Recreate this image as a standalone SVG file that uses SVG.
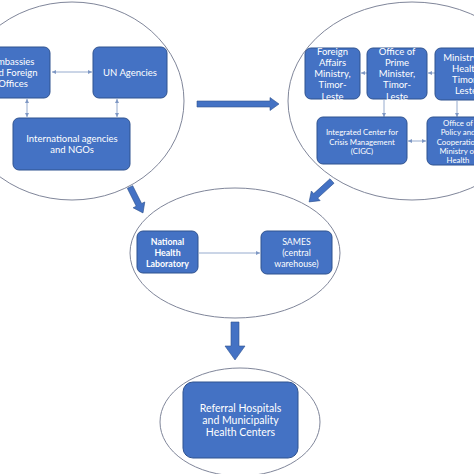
<svg xmlns="http://www.w3.org/2000/svg" width="474" height="474" viewBox="0 0 474 474">
<style>
.bg{fill:#ffffff}
.ell{fill:none;stroke:#80869a;stroke-width:1}
.box{fill:#4472c4;stroke:#2f528f;stroke-width:1}
.t{font-family:Lato,"Open Sans","Liberation Sans",sans-serif;fill:#ffffff;text-anchor:middle}
.s95{font-size:9.5px}
.s8{font-size:7.8px}
.s88{font-size:8.8px}
.b{font-weight:bold}
.con{fill:none;stroke:#8aa2c8;stroke-width:0.9}
.big{fill:#4472c4;stroke:#2f528f;stroke-width:0.6}
</style>
<defs>
<marker id="ah" viewBox="0 0 6 6" refX="6" refY="3" markerWidth="4" markerHeight="4" markerUnits="userSpaceOnUse" orient="auto-start-reverse">
<path d="M0,0 L6,3 L0,6 Z" fill="#7f98c4"/>
</marker>
</defs>
<rect class="bg" x="0" y="0" width="474" height="474"/>

<g id="cluster-international">
<ellipse class="ell" cx="72" cy="101" rx="112" ry="99"/>
</g>
<g id="cluster-government">
<ellipse class="ell" cx="412" cy="101" rx="124" ry="99"/>
</g>
<g id="cluster-national">
<ellipse class="ell" cx="235" cy="253" rx="105" ry="65"/>
</g>
<g id="cluster-referral">
<ellipse class="ell" cx="240" cy="422" rx="80" ry="54"/>
</g>

<g id="connectors">
<line class="con" x1="52" y1="72" x2="92" y2="72" marker-start="url(#ah)" marker-end="url(#ah)"/>
<line class="con" x1="27" y1="99" x2="27" y2="117" marker-start="url(#ah)" marker-end="url(#ah)"/>
<line class="con" x1="117" y1="99" x2="117" y2="117" marker-start="url(#ah)" marker-end="url(#ah)"/>
<line class="con" x1="367" y1="73" x2="361" y2="73" marker-end="url(#ah)"/>
<line class="con" x1="435" y1="73" x2="428" y2="73" marker-end="url(#ah)"/>
<line class="con" x1="384" y1="100" x2="384" y2="117" marker-end="url(#ah)"/>
<line class="con" x1="457" y1="101" x2="457" y2="117" marker-end="url(#ah)"/>
<line class="con" x1="408" y1="141" x2="426" y2="141" marker-start="url(#ah)" marker-end="url(#ah)"/>
<line class="con" x1="199" y1="253" x2="260" y2="253" marker-end="url(#ah)"/>
<polygon class="big" points="197,101 270,101 270,97.5 279,104 270,110.5 270,107 197,107"/>
<polygon class="big" transform="translate(130,187) rotate(63.4)" points="0,-3 20,-3 20,-6.5 29,0 20,6.5 20,3 0,3"/>
<polygon class="big" transform="translate(332,181) rotate(137.6)" points="0,-3 22,-3 22,-6.5 31,0 22,6.5 22,3 0,3"/>
<polygon class="big" points="231,322 239,322 239,346 245,346 235,360 225,346 231,346"/>
</g>

<g id="node-embassies">
<rect class="box" x="-25" y="47" width="75" height="51" rx="6"/>
<text class="t s95" x="13"><tspan x="13" y="65">Embassies</tspan><tspan x="13" y="76">and Foreign</tspan><tspan x="13" y="86.5">Offices</tspan></text>
</g>
<g id="node-un">
<rect class="box" x="93" y="47" width="74" height="51" rx="6"/>
<text class="t s95" x="130" y="76">UN Agencies</text>
</g>
<g id="node-intl">
<rect class="box" x="13" y="118" width="117" height="52" rx="6"/>
<text class="t s95" x="72"><tspan x="72" y="142">International agencies</tspan><tspan x="72" y="153">and NGOs</tspan></text>
</g>

<g id="node-foreign-affairs">
<rect class="box" x="305" y="48" width="55" height="51" rx="6"/>
<text class="t s95"><tspan x="332.5" y="55">Foreign</tspan><tspan x="332.5" y="66">Affairs</tspan><tspan x="332.5" y="77">Ministry,</tspan><tspan x="332.5" y="88">Timor-</tspan><tspan x="332.5" y="99.5">Leste</tspan></text>
</g>
<g id="node-prime-minister">
<rect class="box" x="367" y="48" width="60" height="51" rx="6"/>
<text class="t s95"><tspan x="397" y="55">Office of</tspan><tspan x="397" y="66">Prime</tspan><tspan x="397" y="77">Minister,</tspan><tspan x="397" y="88">Timor-</tspan><tspan x="397" y="99.5">Leste</tspan></text>
</g>
<g id="node-ministry-health">
<rect class="box" x="435" y="48" width="62" height="52" rx="6"/>
<text class="t s95"><tspan x="466" y="61">Ministry of</tspan><tspan x="466" y="72">Health</tspan><tspan x="466" y="83">Timor-</tspan><tspan x="466" y="94">Leste</tspan></text>
</g>
<g id="node-cigc">
<rect class="box" x="317" y="117" width="90" height="47" rx="6"/>
<text class="t s8"><tspan x="362" y="135">Integrated Center for</tspan><tspan x="362" y="144.5">Crisis Management</tspan><tspan x="362" y="154">(CIGC)</tspan></text>
</g>
<g id="node-policy">
<rect class="box" x="427" y="117" width="70" height="48" rx="6"/>
<text class="t s8"><tspan x="458" y="126">Office of</tspan><tspan x="458" y="135">Policy and</tspan><tspan x="458" y="144.5">Cooperation</tspan><tspan x="458" y="154">Ministry of</tspan><tspan x="458" y="163">Health</tspan></text>
</g>

<g id="node-nhl">
<rect class="box" x="137" y="231" width="61" height="42" rx="6"/>
<text class="t s88 b"><tspan x="167.5" y="245">National</tspan><tspan x="167.5" y="256">Health</tspan><tspan x="167.5" y="267">Laboratory</tspan></text>
</g>
<g id="node-sames">
<rect class="box" x="261" y="231" width="71" height="43" rx="6"/>
<text class="t s88"><tspan x="296.5" y="245">SAMES</tspan><tspan x="296.5" y="256">(central</tspan><tspan x="296.5" y="267">warehouse)</tspan></text>
</g>

<g id="node-referral">
<rect class="box" x="183" y="382" width="115" height="76" rx="10"/>
<text class="t" style="font-size:10.5px"><tspan x="240.5" y="412">Referral Hospitals</tspan><tspan x="240.5" y="424">and Municipality</tspan><tspan x="240.5" y="435.5">Health Centers</tspan></text>
</g>
</svg>
